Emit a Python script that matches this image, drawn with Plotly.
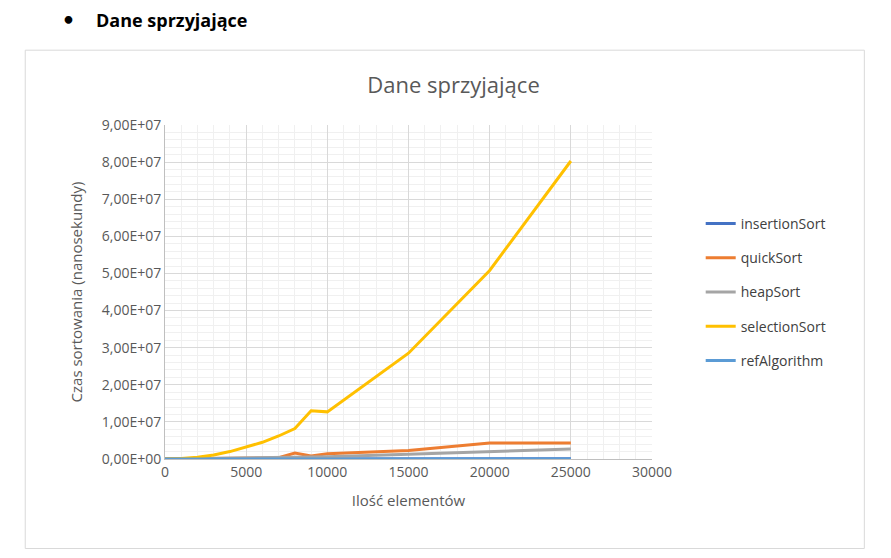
import plotly.graph_objects as go

x = [0, 1000, 2000, 3000, 4000, 5000, 6000, 7000, 8000, 9000, 10000, 15000, 20000, 25000]
insertionSort = [0, 2000, 4000, 6000, 8000, 10000, 12000, 14000, 16000, 18000, 20000, 30000, 40000, 50000]
quickSort = [0, 40000, 90000, 140000, 190000, 240000, 300000, 360000, 1600000, 800000, 1400000, 2300000, 4300000, 4300000]
heapSort = [0, 50000, 100000, 160000, 220000, 280000, 340000, 400000, 460000, 520000, 600000, 1300000, 2000000, 2700000]
selectionSort = [0, 130000, 500000, 1100000, 2000000, 3200000, 4500000, 6200000, 8200000, 13000000, 12700000, 28500000, 50800000, 80300000]
refAlgorithm = [0, 1000, 2000, 3000, 4000, 5000, 6000, 7000, 8000, 9000, 10000, 15000, 20000, 25000]

series = [("insertionSort", insertionSort, "#4472C4"),
          ("quickSort", quickSort, "#ED7D31"),
          ("heapSort", heapSort, "#A5A5A5"),
          ("selectionSort", selectionSort, "#FFC000"),
          ("refAlgorithm", refAlgorithm, "#5B9BD5")]

fig = go.Figure()
for name, ys, c in series:
    fig.add_trace(go.Scatter(x=x, y=ys, name=name, legendgroup=name, mode="lines", line=dict(color=c, width=3)))

yticks = list(range(0, 90000001, 10000000))
ytext = [f"{v/1e7:.2f}".replace(".", ",") + "E+07" if v else "0,00E+00" for v in yticks]

fig.update_layout(
    width=891, height=558, paper_bgcolor="white", plot_bgcolor="white",
    font=dict(family="Open Sans, Calibri, sans-serif", color="#595959", size=14),
    title=dict(text="Dane sprzyjające", x=0.5, xanchor="center", y=0.875, font=dict(size=22, color="#595959")),
    margin=dict(l=157, r=247, t=117, b=107),
    legend=dict(x=1.1, y=0.5, yanchor="middle", font=dict(size=14, color="#404040"), tracegroupgap=13),
    xaxis=dict(range=[0, 30000], dtick=5000, tickformat="d", showline=True, linecolor="#BFBFBF",
               gridcolor="#D9D9D9", minor=dict(dtick=1000, showgrid=True, gridcolor="#F0F0F0"),
               title=dict(text="Ilość elementów", font=dict(size=15, color="#595959")), zeroline=False),
    yaxis=dict(range=[0, 90000000], tickvals=yticks, ticktext=ytext, showline=True, linecolor="#BFBFBF",
               gridcolor="#D9D9D9", minor=dict(dtick=2000000, showgrid=True, gridcolor="#F0F0F0"),
               title=dict(text="Czas sortowania (nanosekundy)", font=dict(size=15, color="#595959")), zeroline=False),
    shapes=[dict(type="rect", xref="paper", yref="paper", x0=-0.287, x1=1.436, y0=-0.268, y1=1.224,
                 line=dict(color="#D9D9D9", width=1))],
    annotations=[dict(text="<b>•</b>", xref="paper", yref="paper", x=-0.212, y=1.356, showarrow=False,
                      font=dict(size=18, color="black", family="Calibri, Carlito, sans-serif")),
                 dict(text="<b>Dane sprzyjające</b>", xref="paper", yref="paper", x=-0.145, y=1.356,
                      xanchor="left", showarrow=False, font=dict(size=18, color="black"))],
)
fig.write_html("out.html")
